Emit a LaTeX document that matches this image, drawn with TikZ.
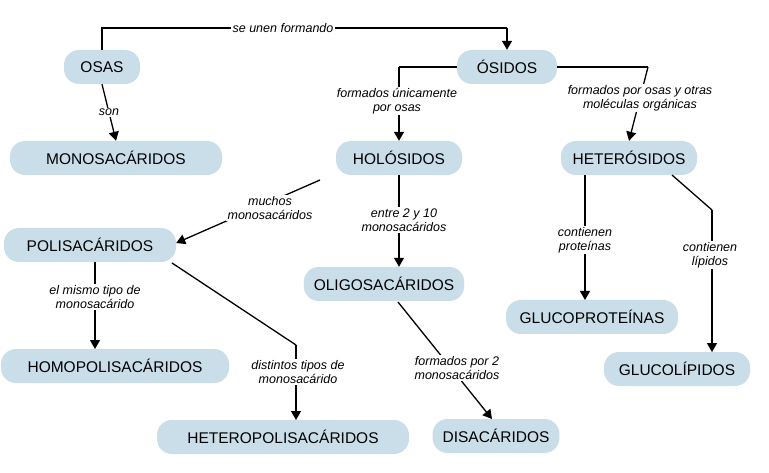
\documentclass[tikz,border=0pt]{standalone}
\usepackage{fontspec}
\setmainfont{Liberation Sans}
\usetikzlibrary{arrows.meta}
\definecolor{boxc}{HTML}{C9DEE9}
\begin{document}
\begin{tikzpicture}[x=1pt,y=-1pt,
  box/.style={fill=boxc,rounded corners=15pt,minimum height=34pt,inner xsep=10pt,font=\fontsize{15.5}{17}\selectfont},
  lab/.style={fill=white,inner sep=1.5pt,align=center,font=\itshape\fontsize{12.5}{14}\selectfont},
  arr/.style={line width=1.3pt,-{Triangle[length=9pt,width=10pt]}},
  ln/.style={line width=1.3pt}]
\useasboundingbox (0,0) rectangle (769,473);
\node[box,minimum width=76pt] (osas) at (102,67) {OSAS};
\node[box,minimum width=100pt] (osidos) at (507,67) {ÓSIDOS};
\node[box,minimum width=212pt] (mono) at (116,158) {MONOSACÁRIDOS};
\node[box,minimum width=126pt] (holo) at (399,158) {HOLÓSIDOS};
\node[box,minimum width=136pt] (hete) at (629,158) {HETERÓSIDOS};
\node[box,minimum width=172pt] (poli) at (90,245) {POLISACÁRIDOS};
\node[box,minimum width=160pt] (oligo) at (384,284) {OLIGOSACÁRIDOS};
\node[box,minimum width=172pt] (gprot) at (592,317) {GLUCOPROTEÍNAS};
\node[box,minimum width=228pt] (homo) at (115,366) {HOMOPOLISACÁRIDOS};
\node[box,minimum width=146pt] (glip) at (677,369) {GLUCOLÍPIDOS};
\node[box,minimum width=252pt] (hetpo) at (283,437) {HETEROPOLISACÁRIDOS};
\node[box,minimum width=120pt] (disa) at (496,436) {DISACÁRIDOS};
\coordinate (c1) at (102,28); \coordinate (c2) at (507,28);
\draw[ln] (osas.north) -- (c1) -- (c2);
\draw[arr] (c2) -- (osidos.north);
\node[lab] at (283,28) {se unen formando};
\draw[arr] (osas.south) -- node[lab]{son} (mono.north);
\coordinate (c3) at (399,67); \coordinate (c4) at (648,67);
\draw[ln] (osidos.west) -- (c3);
\draw[arr] (c3) -- (holo.north);
\node[lab] at (397,101) {formados únicamente\\por osas};
\draw[ln] (osidos.east) -- (c4);
\draw[arr] (c4) -- (hete.north);
\node[lab] at (640,98) {formados por osas y otras\\moléculas orgánicas};
\coordinate (c5) at (320,180);
\draw[arr] (c5) -- (poli.east|-0,243);
\node[lab] at (270,208) {muchos\\monosacáridos};
\draw[arr] (holo.south) -- (holo.south|-oligo.north);
\node[lab] at (404,220) {entre 2 y 10\\monosacáridos};
\draw[arr] (hete.south-|585,0) -- (585,300);
\node[lab] at (585,240) {contienen\\proteínas};
\coordinate (c6) at (672,175); \coordinate (c7) at (712,210);
\draw[ln] (c6) -- (c7);
\draw[arr] (c7) -- (712,352);
\node[lab] at (710,255) {contienen\\lípidos};
\draw[arr] (95,262) -- (95,349);
\node[lab] at (95,297) {el mismo tipo de\\monosacárido};
\coordinate (c8) at (172,263); \coordinate (c9) at (296,345);
\draw[ln] (c8) -- (c9);
\draw[arr] (c9) -- (296,420);
\node[lab] at (298,372) {distintos tipos de\\monosacárido};
\draw[arr] (398,302) -- (492,419);
\node[lab] at (457,368) {formados por 2\\monosacáridos};
\end{tikzpicture}
\end{document}
